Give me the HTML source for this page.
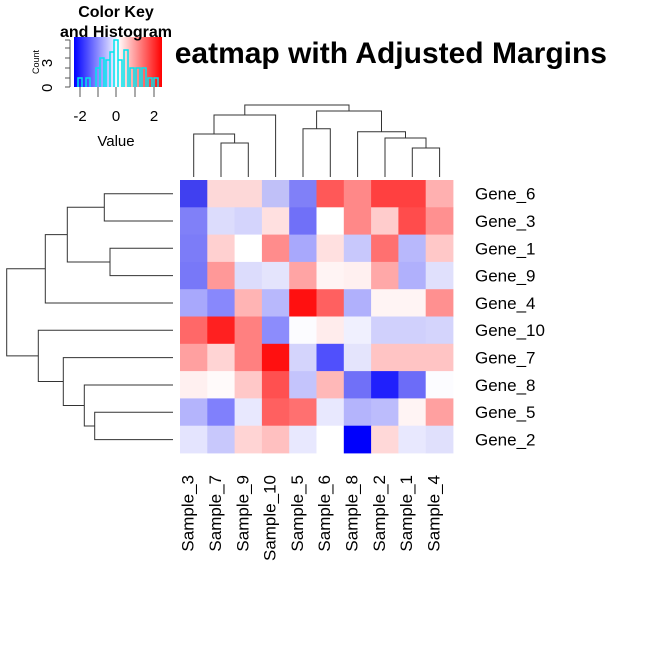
<!DOCTYPE html>
<html><head><meta charset="utf-8"><style>
html,body{margin:0;padding:0;background:#fff;}
svg{display:block;font-family:"Liberation Sans",Arial,sans-serif;}
</style></head><body>
<svg width="660" height="660" viewBox="0 0 660 660" xmlns="http://www.w3.org/2000/svg">
<rect width="660" height="660" fill="#fff"/>
<text x="607" y="63" font-size="30" font-weight="bold" text-anchor="end">Heatmap with Adjusted Margins</text>
<rect x="0" y="0" width="174" height="152" fill="#fff"/>
<defs><linearGradient id="g" x1="0" x2="1" y1="0" y2="0">
<stop offset="0" stop-color="#0000ff"/><stop offset="0.5" stop-color="#ffffff"/><stop offset="1" stop-color="#ff0000"/></linearGradient></defs>
<rect x="74" y="37" width="88" height="50" fill="url(#g)"/>
<g stroke="#00e5ee" stroke-width="1.5" fill="none">
<path d="M78 87V78H82V87M86 87V78H90V87M96 87V68H100V87M100 87V58H104V87M106 87V60H110V87M110 87V52H114V87M114 87V40H118V87M118 87V60H122V87M124 87V50H128V87M130 87V68H134V87M136 87V68H140V87M142 87V68H146V87M148 87V78H152V87M154 87V78H158V87"/>
</g>
<g stroke="#555" stroke-width="1" fill="none">
<path d="M70 40V87M65 87H70M65 78H70M65 68H70M65 58H70M65 48H70M65 40H70"/>
<path d="M80 87V97M98 87V97M116 87V97M135 87V97M154 87V97"/>
</g>
<text x="52" y="92" font-size="15" transform="rotate(-90 52 92)" text-anchor="start">0</text>
<text x="52" y="63" font-size="15" transform="rotate(-90 52 63)" text-anchor="middle">3</text>
<text x="39" y="62" font-size="9" transform="rotate(-90 39 62)" text-anchor="middle">Count</text>
<g font-size="15" text-anchor="middle"><text x="80" y="121">-2</text><text x="116" y="121">0</text><text x="154" y="121">2</text></g>
<text x="116" y="146" font-size="15" text-anchor="middle">Value</text>
<text x="116" y="17" font-size="16" font-weight="bold" text-anchor="middle">Color Key</text>
<text x="116" y="37" font-size="16" font-weight="bold" text-anchor="middle">and Histogram</text>
<g id="hm"></g>
<g stroke="#333" stroke-width="1" fill="none">
<path d="M221 177V143H248.3V177"/>
<path d="M193.7 177V134H234.6V143"/>
<path d="M214 134V115H275.6V177"/>
<path d="M303 177V128.7H330.3V177"/>
<path d="M412.3 177V148H439.6V177"/>
<path d="M385 177V138H426V148"/>
<path d="M357.6 177V131.7H405.5V138"/>
<path d="M316.6 128.7V111H381.5V131.7"/>
<path d="M244.8 115V105H349V111"/>
<path d="M173 193.7H104.3V221H173"/>
<path d="M173 248.3H110V275.6H173"/>
<path d="M104.3 207.3H67.3V262H110"/>
<path d="M67.3 234.6H45.3V303H173"/>
<path d="M173 412.3H94.7V439.6H173"/>
<path d="M173 385H84.3V426H94.7"/>
<path d="M173 357.6H63.3V405.5H84.3"/>
<path d="M173 330.3H38.3V381.5H63.3"/>
<path d="M45.3 268.8H6.7V355.9H38.3"/>
</g>
<g font-size="17" id="gl"></g>
<g font-size="17" id="sl"></g>
<script>
var C=[
["#4040f0","#fdd8d8","#fdd8d8","#c0c0f8","#8080f8","#ff5858","#ff8888","#ff4040","#ff4040","#ffb0b0"],
["#8080f8","#dcdcfc","#d4d4fc","#ffe0e0","#7070f8","#ffffff","#ff8888","#ffcccc","#ff4c4c","#ff9090"],
["#7c7cf8","#ffd0d0","#ffffff","#ff8c8c","#a8a8fc","#ffe0e0","#c8c8fc","#ff7070","#b8b8fc","#ffc8c8"],
["#7878f8","#ff9898","#dcdcfc","#e4e4fc","#ffa4a4","#fff4f4","#fff0f0","#ffa8a8","#b0b0fc","#e0e0fc"],
["#a8a8fc","#8888fc","#ffb4b4","#b8b8fc","#ff1010","#ff6060","#b0b0fc","#fff4f4","#fff4f4","#ff9090"],
["#ff6868","#ff2020","#ff8080","#8c8cfc","#fcfcff","#ffecec","#f0f0fe","#d0d0fc","#d0d0fc","#d4d4fc"],
["#ffa0a0","#ffd4d4","#ff8080","#ff1010","#d4d4fc","#5050fc","#e4e4fc","#ffc4c4","#ffc4c4","#ffc4c4"],
["#fff0f0","#fffafa","#ffc8c8","#ff5050","#c4c4fc","#ffb8b8","#7070f8","#2020fc","#6c6cf8","#fcfcff"],
["#b4b4fc","#8080fc","#e8e8fe","#ff6060","#ff7070","#e8e8fe","#b4b4fc","#bcbcfc","#fff4f4","#ffa0a0"],
["#e4e4fe","#c8c8fc","#ffd4d4","#ffc0c0","#e8e8fe","#ffffff","#0000fc","#ffd8d8","#e8e8fe","#e0e0fc"]];
var G=["Gene_6","Gene_3","Gene_1","Gene_9","Gene_4","Gene_10","Gene_7","Gene_8","Gene_5","Gene_2"];
var S=["Sample_3","Sample_7","Sample_9","Sample_10","Sample_5","Sample_6","Sample_8","Sample_2","Sample_1","Sample_4"];
var ns="http://www.w3.org/2000/svg",w=27.3;
var hm=document.getElementById("hm"),gl=document.getElementById("gl"),sl=document.getElementById("sl");
for(var r=0;r<10;r++){for(var c=0;c<10;c++){var e=document.createElementNS(ns,"rect");
e.setAttribute("x",180+c*w);e.setAttribute("y",180+r*w);e.setAttribute("width",w+0.4);e.setAttribute("height",w+0.4);e.setAttribute("fill",C[r][c]);hm.appendChild(e);}
var t=document.createElementNS(ns,"text");t.setAttribute("x",475);t.setAttribute("y",180+(r+0.5)*w+6);t.textContent=G[r];gl.appendChild(t);
var cx=180+(r+0.5)*w;var s=document.createElementNS(ns,"text");s.setAttribute("x",cx);s.setAttribute("y",475);s.setAttribute("text-anchor","end");s.setAttribute("transform","rotate(-90 "+cx+" 475)");s.textContent=S[r];sl.appendChild(s);}
</script>
</svg>
</body></html>
